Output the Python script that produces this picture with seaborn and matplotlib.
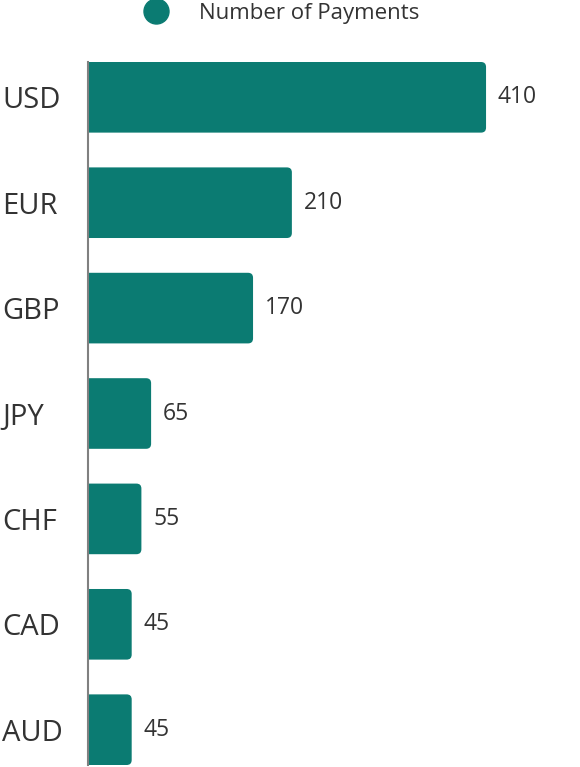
import matplotlib
matplotlib.use("Agg")
import matplotlib.pyplot as plt
from matplotlib.patches import FancyBboxPatch
from matplotlib.lines import Line2D
import seaborn as sns
import pandas as pd

currencies = ["USD", "EUR", "GBP", "JPY", "CHF", "CAD", "AUD"]
payments = [410, 210, 170, 65, 55, 45, 45]
series_name = "Number of Payments"

teal = "#0b7b72"
text_color = "#333333"

sns.set_theme(style="white")
plt.rcParams['font.family'] = ['Open Sans', 'DejaVu Sans']

df = pd.DataFrame({"currency": currencies, "payments": payments})

fig = plt.figure(figsize=(5.8, 7.67), dpi=100)
ax = fig.add_axes([88 / 580, 2 / 767, 466 / 580, 703 / 767])

bw = 0.67
sns.barplot(data=df, y="currency", x="payments", color=teal, width=bw,
            saturation=1, ax=ax, orient="h")

ax.set_xlim(0, 480)
ax.set_ylim(len(currencies) - 1 + bw / 2, -bw / 2)

# swap the plain bars for rounded ones (left corners clipped by the axis)
px_x = 466 / 480
px_y = 703 / (len(currencies) - 1 + bw)
for p in list(ax.patches):
    x0, y0 = p.get_x(), p.get_y()
    w, h = p.get_width(), p.get_height()
    r = 5 / px_x
    rb = FancyBboxPatch((x0 - 10, y0), w + 10, h,
                        boxstyle=f"round,pad=0,rounding_size={r}",
                        mutation_aspect=px_x / px_y,
                        facecolor=teal, edgecolor="none", clip_on=True)
    p.remove()
    ax.add_patch(rb)

for i, v in enumerate(payments):
    ax.text(v + 12, i, str(v), va="center", ha="left", fontsize=16.5,
            color=text_color)

sns.despine(ax=ax, top=True, right=True, bottom=True, left=False)
ax.spines["left"].set_color("#808080")
ax.spines["left"].set_linewidth(1.5)
ax.set_xticks([])
ax.set_xlabel("")
ax.set_ylabel("")
ax.tick_params(axis="y", length=0, pad=86 * 0.72, labelsize=21,
               labelcolor=text_color)
for lab in ax.get_yticklabels():
    lab.set_ha("left")

handle = Line2D([], [], marker="o", linestyle="none", markersize=18,
                markerfacecolor=teal, markeredgecolor=teal)
fig.legend([handle], [series_name], loc="upper center",
           bbox_to_anchor=(0.477, 1.008), frameon=False, fontsize=16,
           borderaxespad=0, handletextpad=0.9, labelcolor=text_color)

fig.savefig("out.png", dpi=100)
